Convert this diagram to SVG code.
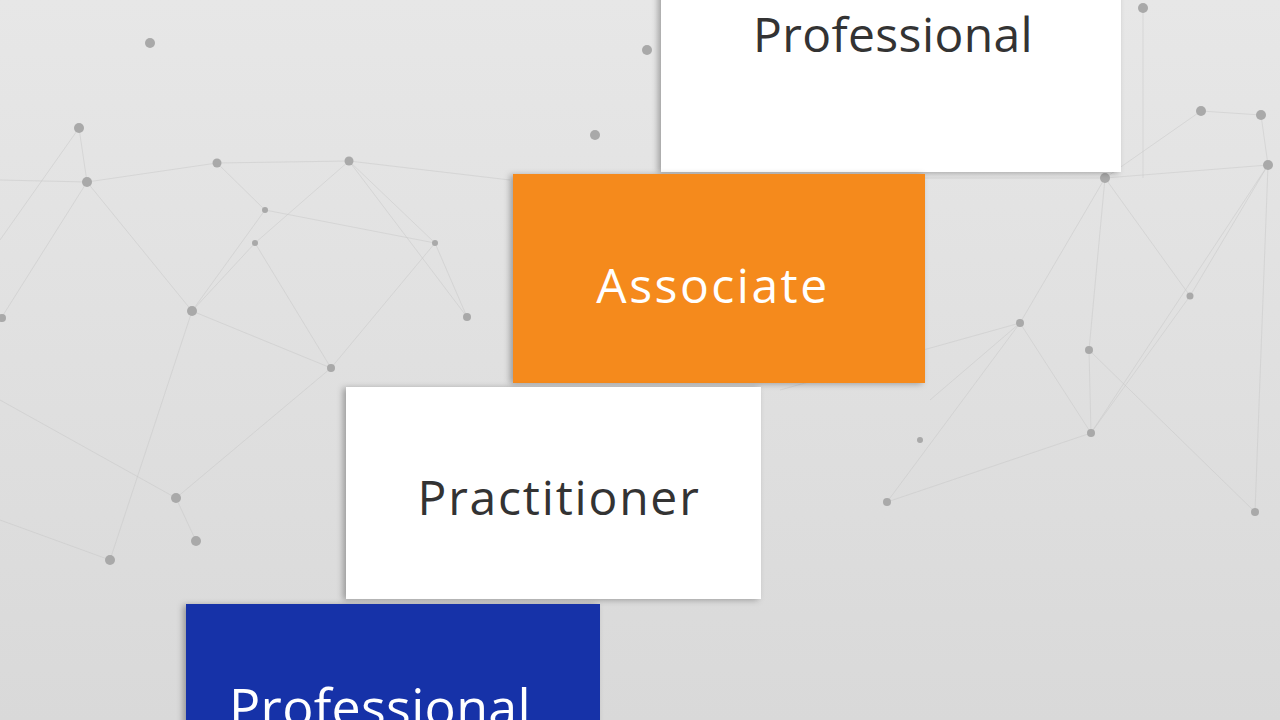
<svg xmlns="http://www.w3.org/2000/svg" width="1280" height="720" viewBox="0 0 1280 720">
<defs>
<linearGradient id="bg" x1="0" y1="0" x2="0" y2="1">
<stop offset="0" stop-color="#e7e7e7"/>
<stop offset="1" stop-color="#d9d9d9"/>
</linearGradient>
<filter id="sh" x="-10%" y="-10%" width="120%" height="120%">
<feDropShadow dx="-3" dy="1" stdDeviation="3" flood-color="#000" flood-opacity="0.3"/>
</filter>
</defs>
<style>
.ln{stroke:#c8c8c8;stroke-width:1;fill:none;opacity:0.5}
.dt{fill:#a9a9a9}
.lbl{font-family:"Open Sans","Noto Sans",sans-serif;font-size:48px;text-anchor:middle}
.big{font-size:52px}
.dark{fill:#333333}
.light{fill:#ffffff}
</style>
<rect width="1280" height="720" fill="url(#bg)"/>
<g id="mesh">
<path class="ln" d="M0 180 L87 182 L217 163 L349 161 L510 180 M87 182 L192 311 L331 368 M87 182 L0 320 M217 163 L265 210 L192 311 M349 161 L255 243 L192 311 M349 161 L435 243 L467 317 M349 161 L467 317 M265 210 L435 243 M255 243 L331 368 M79 128 L0 240 M79 128 L87 182 M192 311 L110 560 M331 368 L176 498 M435 243 L331 368 M0 400 L176 498 L196 541 M110 560 L0 520"/>
<path class="ln" d="M925 178 L1105 178 L1268 165 M1105 178 L1201 111 L1261 115 L1268 165 M1105 178 L1190 296 L1268 165 M1105 178 L1089 350 L1091 433 M1020 323 L1091 433 L1268 165 M1190 296 L1091 433 M1089 350 L1255 512 M1020 323 L1105 178 M887 502 L1020 323 M887 502 L1091 433 M1255 512 L1268 165 M1143 8 L1143 178 M930 400 L1020 323 M780 390 L1020 323"/>
<g class="dt">
<circle cx="150" cy="43" r="5"/><circle cx="79" cy="128" r="5"/><circle cx="87" cy="182" r="5"/>
<circle cx="217" cy="163" r="4.5"/><circle cx="349" cy="161" r="4.5"/><circle cx="265" cy="210" r="3"/>
<circle cx="255" cy="243" r="3"/><circle cx="192" cy="311" r="5"/><circle cx="331" cy="368" r="4"/>
<circle cx="435" cy="243" r="3"/><circle cx="467" cy="317" r="4"/><circle cx="595" cy="135" r="5"/>
<circle cx="647" cy="50" r="5"/><circle cx="176" cy="498" r="5"/><circle cx="196" cy="541" r="5"/>
<circle cx="110" cy="560" r="5"/><circle cx="2" cy="318" r="4"/>
<circle cx="1143" cy="8" r="5"/><circle cx="1201" cy="111" r="5"/><circle cx="1261" cy="115" r="5"/>
<circle cx="1268" cy="165" r="5"/><circle cx="1105" cy="178" r="5"/><circle cx="1190" cy="296" r="3.5"/>
<circle cx="1089" cy="350" r="4"/><circle cx="1020" cy="323" r="4"/><circle cx="1091" cy="433" r="4"/>
<circle cx="887" cy="502" r="4"/><circle cx="1255" cy="512" r="4"/><circle cx="920" cy="440" r="3"/>
</g>
</g>
<g id="connectors"></g>
<g id="node-professional-top">
<rect x="661" y="-10" width="460" height="182" fill="#ffffff" filter="url(#sh)"/>
<text class="lbl dark" x="893" y="52" letter-spacing="0.4">Professional</text>
</g>
<g id="node-associate">
<rect x="513" y="174" width="412" height="209" fill="#f58a1f" filter="url(#sh)"/>
<text class="lbl light" x="713" y="303" letter-spacing="2.5">Associate</text>
</g>
<g id="node-practitioner">
<rect x="346" y="387" width="415" height="212" fill="#ffffff" filter="url(#sh)"/>
<text class="lbl dark" x="559" y="515" letter-spacing="1.8">Practitioner</text>
</g>
<g id="node-professional-bottom">
<rect x="186" y="604" width="414" height="130" fill="#1530a8" filter="url(#sh)"/>
<text class="lbl big light" x="380" y="726" letter-spacing="0.3">Professional</text>
</g>
</svg>
